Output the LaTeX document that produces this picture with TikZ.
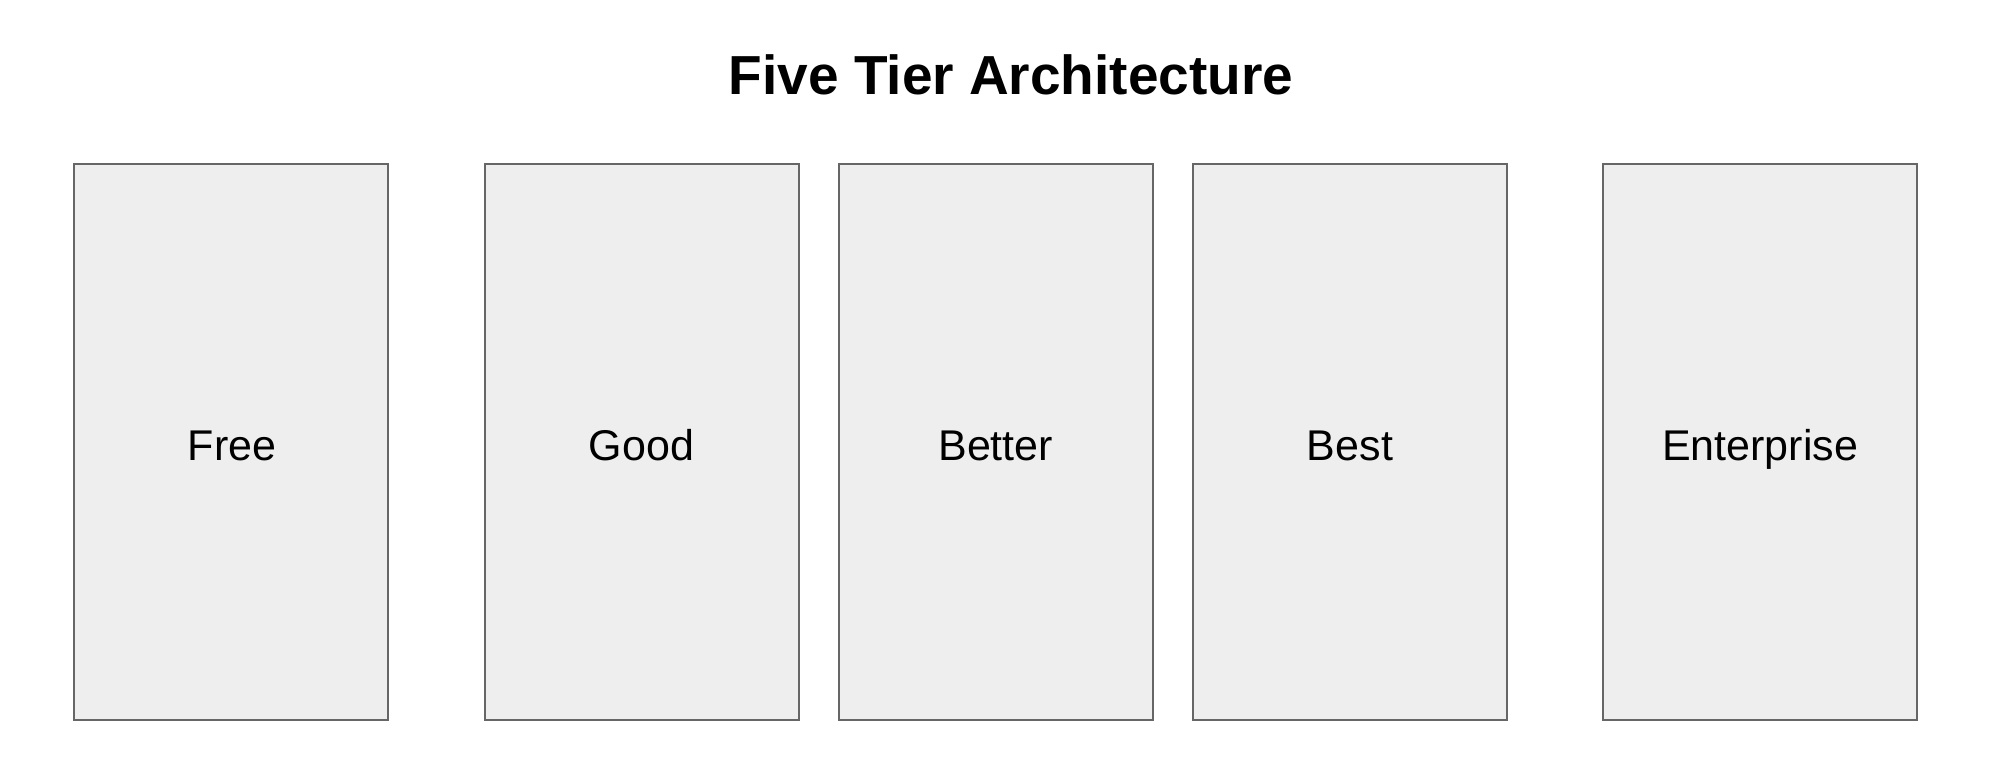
\documentclass[tikz,border=0pt]{standalone}
\usepackage{fontspec}
\setmainfont{Liberation Sans}
\definecolor{boxline}{HTML}{666666}
\definecolor{boxfill}{HTML}{EEEEEE}
\begin{document}
\begin{tikzpicture}[x=1pt,y=-1pt,
  tier/.style={draw=boxline,fill=boxfill,line width=2pt,minimum width=314pt,minimum height=556pt,inner sep=0pt,outer sep=0pt},
  tierlabel/.style={anchor=base,inner sep=0pt,font=\fontsize{43}{52}\selectfont},
  titlestyle/.style={anchor=base,inner sep=0pt,font=\fontsize{55}{64}\selectfont\bfseries}]
\useasboundingbox[fill=white] (0,0) rectangle (1998,774);
\node[titlestyle] (title) at (1011,94) {Five Tier Architecture};
\node[tier] (free) at (231,442) {};
\node[tier] (good) at (641.5,442) {};
\node[tier] (better) at (995.7,442) {};
\node[tier] (best) at (1350,442) {};
\node[tier] (ent) at (1760,442) {};
\node[tierlabel] (freel) at (232,460) {Free};
\node[tierlabel] (goodl) at (641.5,460) {Good};
\node[tierlabel] (betterl) at (995.7,460) {Better};
\node[tierlabel] (bestl) at (1350,460) {Best};
\node[tierlabel] (entl) at (1760,460) {Enterprise};
\end{tikzpicture}
\end{document}
